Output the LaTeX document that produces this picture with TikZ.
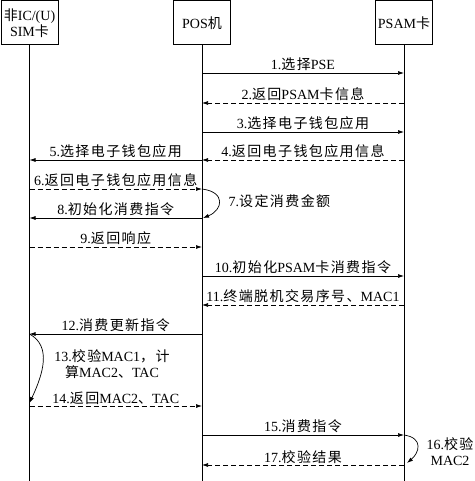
\documentclass[tikz,border=0pt]{standalone}
\usepackage{fontspec}
\setmainfont{Liberation Serif}
\newfontfamily\cjk[LetterSpace=10]{Noto Sans CJK SC}
\newcommand\zh[1]{{\cjk #1}}
\usetikzlibrary{arrows.meta,positioning}

\tikzset{
  head/.style={draw,minimum width=57pt,minimum height=44pt,inner sep=1pt,align=center,anchor=north},
  msg/.style={-{Latex[length=6pt,width=4pt]}},
  reply/.style={msg,dash pattern=on 5pt off 3pt},
  lbl/.style={above,inner sep=1.5pt},
}

\begin{document}
\begin{tikzpicture}[x=1pt,y=-1pt,line width=0.7pt,font=\fontsize{14}{16}\selectfont]
    \useasboundingbox (0,0) rectangle (474,481);

    \node[head] (sim)  at ( 29.5,0.5) {\zh{非}IC/(U)\\SIM\zh{卡}};
    \node[head] (pos)  at (202,0.5)   {POS\zh{机}};
    \node[head] (psam) at (404,0.5)   {PSAM\zh{卡}};

    \foreach \p in {sim,pos,psam}
      \draw (\p.south) -- (\p |- 0,481);

    \foreach \n/\y in {a/73,b/103,c/132,d/160,e/189,f/218,g/247,h/276,i/305,j/334,k/406,l/435,m/465}
      \path (sim  |- 0,\y) coordinate (sim-\n)
            (pos  |- 0,\y) coordinate (pos-\n)
            (psam |- 0,\y) coordinate (psam-\n);

    \draw[msg]   (pos-a)  -- node[lbl] {1.\zh{选择}PSE} (psam-a);
    \draw[reply] (psam-b) -- node[lbl] {2.\zh{返回}PSAM\zh{卡信息}} (pos-b);
    \draw[msg]   (pos-c)  -- node[lbl] {3.\zh{选择电子钱包应用}} (psam-c);
    \draw[reply] (psam-d) -- node[lbl] {4.\zh{返回电子钱包应用信息}} (pos-d);
    \draw[msg]   (pos-d)  -- node[lbl] {5.\zh{选择电子钱包应用}} (sim-d);
    \draw[reply] (sim-e)  -- node[lbl] {6.\zh{返回电子钱包应用信息}} (pos-e);

    \draw[msg] (pos-e)
      .. controls +(24,3) and +(20,-8) .. ([xshift=1pt]pos-f)
      node[pos=0.5,right=6pt] (step7) {7.\zh{设定消费金额}};

    \draw[msg]   (pos-f)  -- node[lbl] {8.\zh{初始化消费指令}} (sim-f);
    \draw[reply] (sim-g)  -- node[lbl] {9.\zh{返回响应}} (pos-g);
    \draw[msg]   (pos-h)  -- node[lbl] {10.\zh{初始化}PSAM\zh{卡消费指令}} (psam-h);
    \draw[reply] (psam-i) -- node[lbl] {11.\zh{终端脱机交易序号、}MAC1} (pos-i);
    \draw[msg]   (pos-j)  -- node[lbl] {12.\zh{消费更新指令}} (sim-j);

    \draw[msg] (sim-j)
      .. controls +(22,12) and +(14,-30) .. ([yshift=3pt]sim-k);
    \node[align=center,inner sep=0pt] (step13) at (112,364)
      {13.\zh{校验}MAC1\zh{，计}\\\zh{算}MAC2\zh{、}TAC};

    \draw[reply] (sim-k)  -- node[lbl] {14.\zh{返回}MAC2\zh{、}TAC} (pos-k);
    \draw[msg]   (pos-l)  -- node[lbl] {15.\zh{消费指令}} (psam-l);

    \draw[msg] (psam-l)
      .. controls +(20,3) and +(12,-10) .. ([shift={(3pt,2pt)}]psam-m);
    \node[align=center,inner sep=0pt] (step16) at (450,452) {16.\zh{校验}\\MAC2};

    \draw[reply] (psam-m) -- node[lbl] {17.\zh{校验结果}} (pos-m);

\end{tikzpicture}
\end{document}
